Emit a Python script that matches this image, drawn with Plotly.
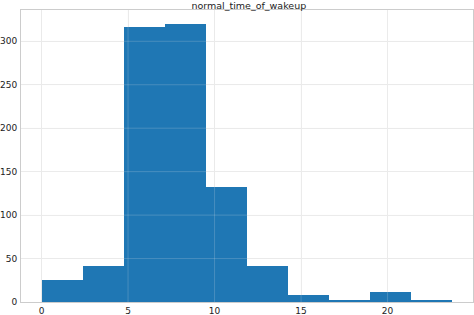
import plotly.graph_objects as go

title = "normal_time_of_wakeup"
bin_edges = [0.0, 2.375, 4.75, 7.125, 9.5, 11.875, 14.25, 16.625, 19.0, 21.375, 23.75]
counts = [25, 42, 317, 320, 132, 41, 8, 2, 11, 2]
x_ticks = [0, 5, 10, 15, 20]
y_ticks = [0, 50, 100, 150, 200, 250, 300]

centers = [(a + b) / 2 for a, b in zip(bin_edges[:-1], bin_edges[1:])]
widths = [b - a for a, b in zip(bin_edges[:-1], bin_edges[1:])]

span = bin_edges[-1] - bin_edges[0]
xr = [bin_edges[0] - 0.05 * span, bin_edges[-1] + 0.05 * span]
yr = [0, max(counts) * 1.05]

fig = go.Figure()
fig.add_trace(go.Bar(x=centers, y=counts, width=widths,
                     marker=dict(color="#1f77b4", line=dict(width=0))))

# grid drawn over bars (matplotlib style)
for yv in y_ticks[1:]:
    fig.add_shape(type="line", xref="x domain", yref="y", x0=0, x1=1, y0=yv, y1=yv,
                  line=dict(color="rgba(235,235,235,0.2)", width=1), layer="above")
for xv in x_ticks:
    fig.add_shape(type="line", xref="x", yref="y domain", x0=xv, x1=xv, y0=0, y1=1,
                  line=dict(color="rgba(235,235,235,0.2)", width=1), layer="above")

fig.update_layout(
    width=474, height=315,
    margin=dict(l=21, r=1, t=10, b=13, autoexpand=False),
    paper_bgcolor="white", plot_bgcolor="white",
    font=dict(family="DejaVu Sans", size=9, color="#222222"),
    showlegend=False, bargap=0,
    title=dict(text=title, x=0.525, xanchor="center", y=0.993, yanchor="top",
               font=dict(size=9.5, color="#222222")),
)
fig.update_xaxes(range=xr, tickvals=x_ticks, showgrid=True, gridcolor="#ebebeb", gridwidth=1,
                 zeroline=False, showline=True, linecolor="#cccccc", mirror=True,
                 ticks="", ticklen=0, ticklabelstandoff=0, automargin=False)
fig.update_yaxes(range=yr, tickvals=y_ticks, showgrid=True, gridcolor="#ebebeb", gridwidth=1,
                 zeroline=False, showline=True, linecolor="#cccccc", mirror=True,
                 ticks="", ticklen=0, ticklabelstandoff=1, automargin=False)

fig.write_html("out.html")
